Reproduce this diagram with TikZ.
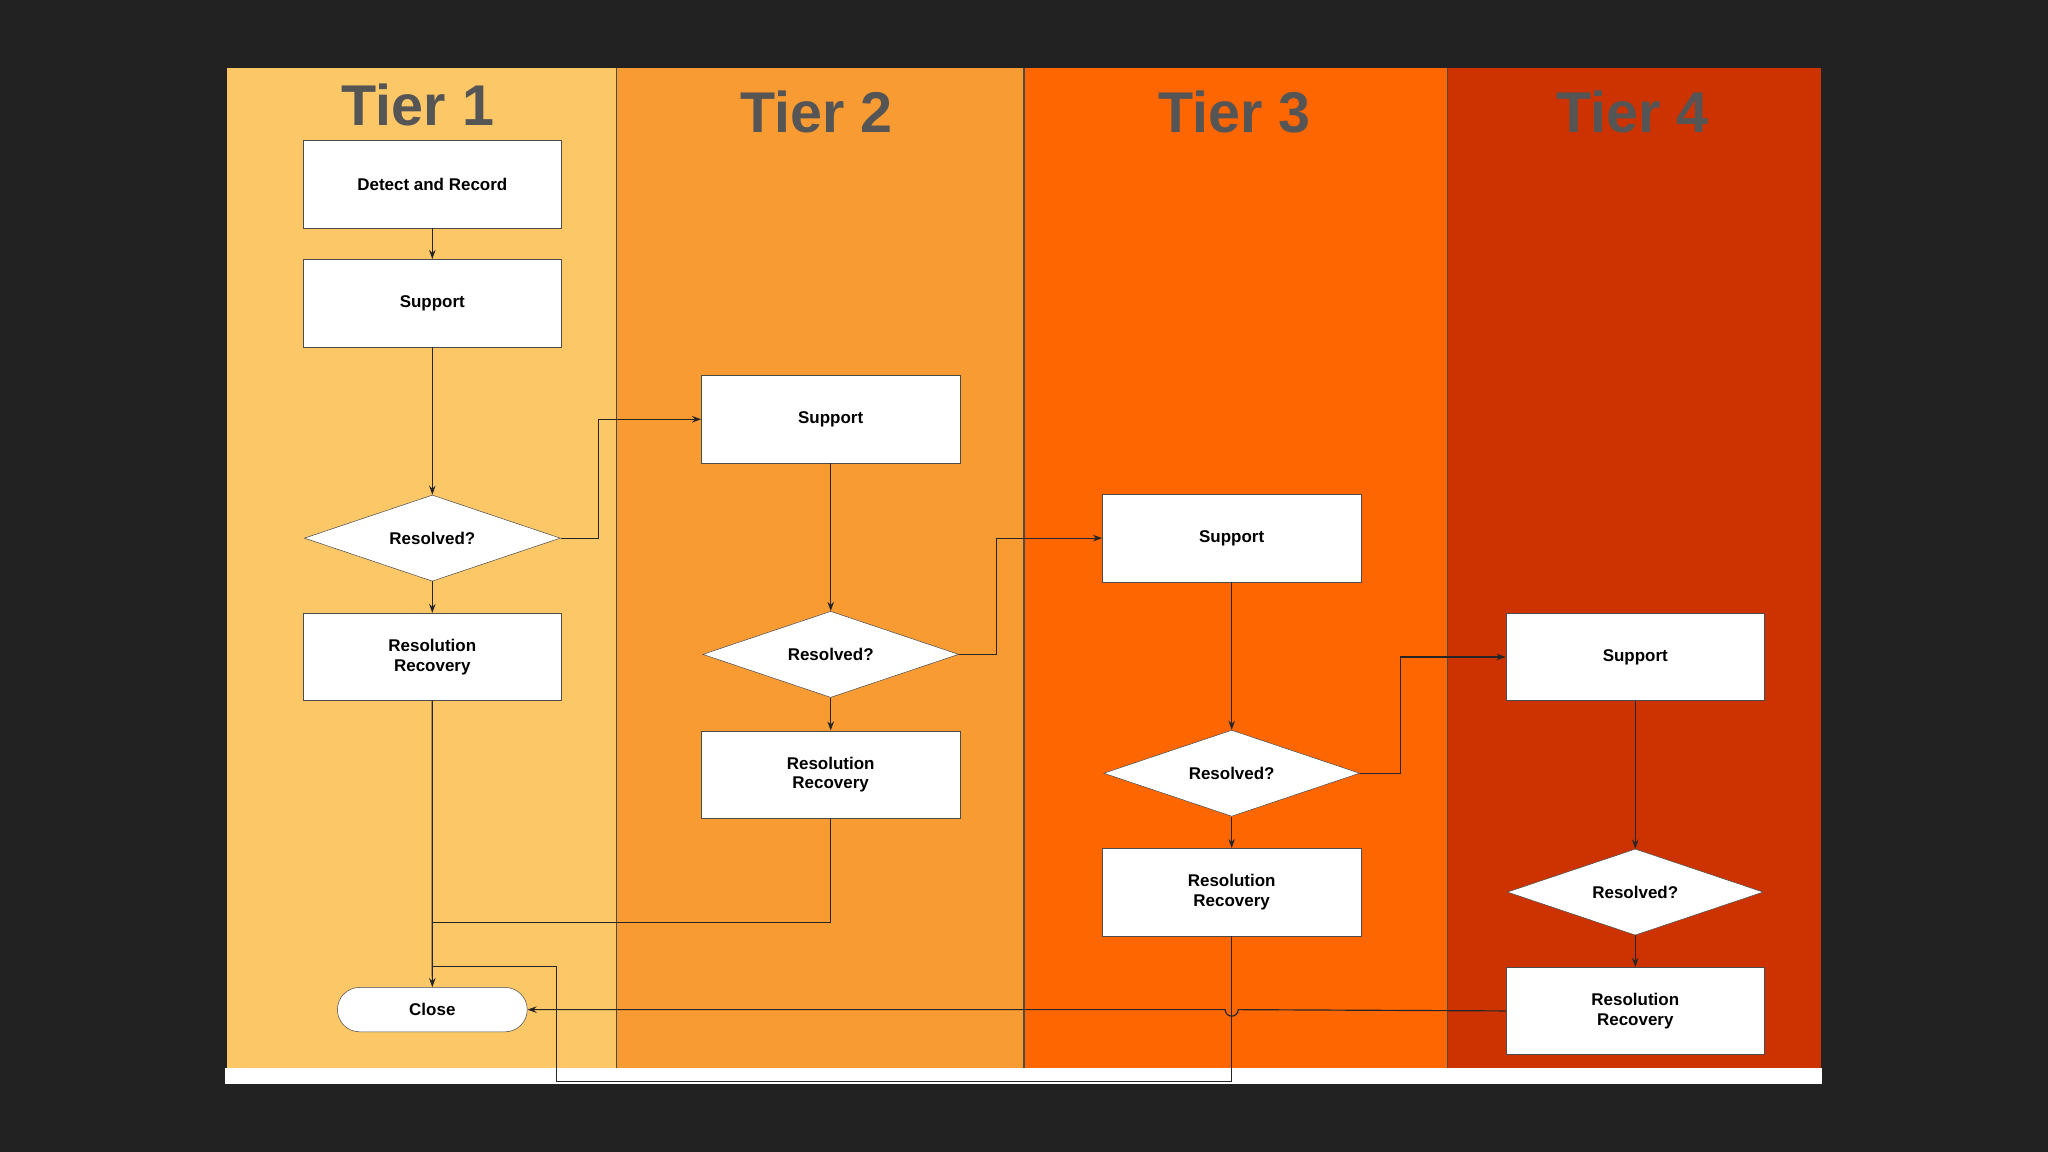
\documentclass[tikz,border=0pt]{standalone}
\usepackage{fontspec}
\setmainfont{Liberation Sans}
\usetikzlibrary{shapes.geometric,arrows.meta}
\definecolor{bg}{HTML}{222222}
\definecolor{tA}{HTML}{FCC867}
\definecolor{tB}{HTML}{F99B33}
\definecolor{tC}{HTML}{FE6602}
\definecolor{tD}{HTML}{CC3300}
\definecolor{ttl}{HTML}{555555}
\begin{document}
\begin{tikzpicture}[x=1pt,y=-1pt,
  box/.style={draw=black!70,fill=white,minimum width=198pt,minimum height=67pt,inner sep=1pt,align=center,font=\bfseries\fontsize{13}{15}\selectfont},
  dia/.style={diamond,aspect=3,draw=black!70,fill=white,minimum width=196pt,minimum height=66pt,inner sep=0pt,font=\bfseries\fontsize{13}{15}\selectfont},
  term/.style={rounded rectangle,draw=black!70,fill=white,minimum width=152pt,minimum height=34pt,font=\bfseries\fontsize{13}{15}\selectfont},
  ttlst/.style={font=\bfseries\fontsize{44}{48}\selectfont,text=ttl},
  ln/.style={draw=black!85,line width=0.9pt},
  ar/.style={ln,-{Stealth[length=7pt,width=5pt]}},
  lane/.style={draw=black!70,line width=0.8pt}]
\usetikzlibrary{shapes.misc}
\fill[bg] (0,0) rectangle (1568,882);
\useasboundingbox (0,0) rectangle (1568,882);
\fill[tA] (174,52) rectangle (472,818);
\fill[tB] (472,52) rectangle (784,818);
\fill[tC] (784,52) rectangle (1108,818);
\fill[tD] (1108,52) rectangle (1394,818);
\draw[lane] (472,52) -- (472,818) (784,52) -- (784,818) (1108,52) -- (1108,818);
\fill[white] (172,818) rectangle (1395,830);
\node[ttlst] (t1) at (320,80) {Tier 1};
\node[ttlst] (t2) at (625,86) {Tier 2};
\node[ttlst] (t3) at (945,86) {Tier 3};
\node[ttlst] (t4) at (1250,86) {Tier 4};
\node[box] (d1) at (331,141) {Detect and Record};
\node[box] (s1) at (331,232) {Support};
\node[dia] (r1) at (331,412) {Resolved?};
\node[box] (e1) at (331,503) {Resolution\\Recovery};
\node[term] (cl) at (331,773) {Close};
\node[box] (s2) at (636,321) {Support};
\node[dia] (r2) at (636,501) {Resolved?};
\node[box] (e2) at (636,593) {Resolution\\Recovery};
\node[box] (s3) at (943,412) {Support};
\node[dia] (r3) at (943,592) {Resolved?};
\node[box] (e3) at (943,683) {Resolution\\Recovery};
\node[box] (s4) at (1252,503) {Support};
\node[dia] (r4) at (1252,683) {Resolved?};
\node[box] (e4) at (1252,774) {Resolution\\Recovery};
\coordinate (j2) at (331,706);
\coordinate (j3a) at (943,828);
\coordinate (j3b) at (426,828);
\coordinate (j3c) at (426,740);
\coordinate (j3d) at (331,740);
\foreach \a/\b in {d1/s1,s1/r1,r1/e1,e1/cl,s2/r2,r2/e2,s3/r3,r3/e3,s4/r4,r4/e4}
  \draw[ar] (\a) -- (\b);
\draw[ar] (r1.east) -- (458,412) |- (s2.west);
\draw[ar] (r2.east) -- (763,501) |- (s3.west);
\draw[ar] (r3.east) -- (1072,592) |- (s4.west);
\draw[ln] (e2.south) |- (j2);
\draw[ln] (e3.south) -- (j3a) -- (j3b) -- (j3c) -- (j3d);
\draw[ar] (e4.west) -- (948,773) arc (0:180:5) -- (cl.east);
\end{tikzpicture}
\end{document}
